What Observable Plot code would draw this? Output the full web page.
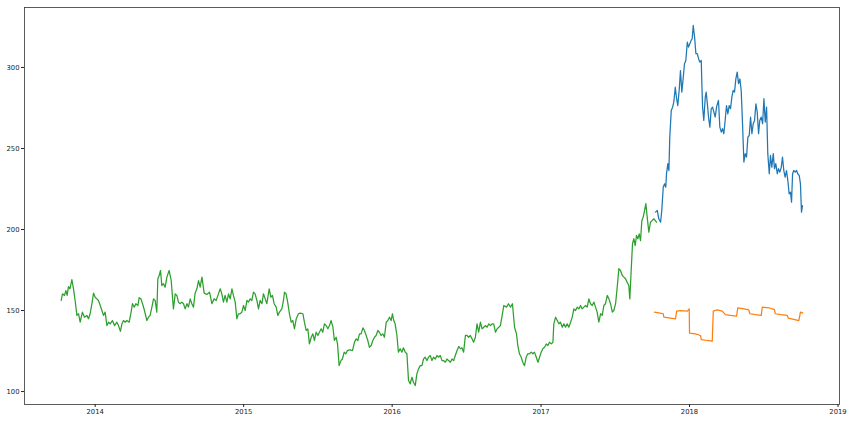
<!DOCTYPE html>
<html>
<head>
<meta charset="utf-8">
<script src="https://cdn.jsdelivr.net/npm/d3@7"></script>
<script src="https://cdn.jsdelivr.net/npm/@observablehq/plot@0.6"></script>
<style>
  html, body { margin: 0; padding: 0; background: #fff; }
  #chart svg { display: block; }
</style>
</head>
<body>
<div id="chart"></div>
<script>
// [decimal year, value]
const greenSeries = [
[2013.771,156.2],[2013.780,160.3],[2013.793,159.3],[2013.803,162.3],[2013.811,159.3],[2013.820,164.8],[2013.830,163.4],[2013.843,169.0],[2013.854,163.4],[2013.865,156.2],
[2013.877,147.0],[2013.888,148.0],[2013.899,142.8],[2013.914,149.0],[2013.928,145.9],[2013.944,147.0],[2013.955,144.9],[2013.966,148.0],[2013.978,154.2],[2013.989,160.7],
[2014.000,158.2],[2014.011,157.2],[2014.022,156.2],[2014.034,153.1],[2014.045,150.0],[2014.056,147.0],[2014.067,149.0],[2014.079,140.7],[2014.090,142.8],[2014.101,141.8],
[2014.116,143.8],[2014.130,140.7],[2014.146,142.8],[2014.157,140.7],[2014.170,137.2],[2014.180,141.8],[2014.191,143.8],[2014.202,142.8],[2014.213,143.8],[2014.229,142.8],
[2014.242,149.0],[2014.251,154.2],[2014.263,152.1],[2014.274,154.2],[2014.288,153.1],[2014.296,157.9],[2014.308,157.2],[2014.319,154.2],[2014.332,150.0],[2014.348,143.8],
[2014.359,145.9],[2014.370,147.0],[2014.382,152.1],[2014.393,157.2],[2014.404,156.2],[2014.415,149.0],[2014.422,169.6],[2014.431,171.6],[2014.440,174.7],[2014.449,165.4],
[2014.460,166.5],[2014.471,164.4],[2014.483,170.6],[2014.498,174.7],[2014.512,168.5],[2014.527,151.0],[2014.539,160.3],[2014.550,159.3],[2014.561,155.2],[2014.572,154.2],
[2014.584,155.2],[2014.595,154.2],[2014.606,151.0],[2014.618,154.2],[2014.628,152.1],[2014.640,157.2],[2014.651,154.2],[2014.662,152.1],[2014.673,160.7],[2014.685,163.4],
[2014.696,168.5],[2014.707,164.4],[2014.719,170.6],[2014.734,160.7],[2014.752,159.9],[2014.770,161.3],[2014.786,154.2],[2014.801,157.2],[2014.815,156.2],[2014.830,160.3],
[2014.842,163.4],[2014.853,160.3],[2014.864,155.2],[2014.875,159.3],[2014.887,155.2],[2014.898,160.3],[2014.909,157.2],[2014.921,163.4],[2014.931,159.3],[2014.943,155.2],
[2014.954,144.9],[2014.965,148.0],[2014.976,148.0],[2014.988,149.0],[2014.999,153.1],[2015.010,150.0],[2015.022,156.2],[2015.032,155.2],[2015.044,157.2],[2015.055,156.2],
[2015.066,161.3],[2015.077,160.3],[2015.089,156.2],[2015.100,151.0],[2015.111,156.2],[2015.123,154.2],[2015.133,160.3],[2015.145,157.2],[2015.156,154.2],[2015.172,163.4],
[2015.183,158.2],[2015.194,159.3],[2015.205,154.2],[2015.219,152.1],[2015.230,147.0],[2015.241,149.0],[2015.257,151.0],[2015.268,156.2],[2015.275,161.3],[2015.286,160.3],
[2015.298,154.2],[2015.308,148.0],[2015.320,142.8],[2015.331,143.8],[2015.342,138.7],[2015.354,144.9],[2015.369,148.0],[2015.380,148.4],[2015.399,148.0],[2015.409,142.8],
[2015.421,137.7],[2015.432,138.7],[2015.443,129.4],[2015.455,133.5],[2015.466,135.6],[2015.477,131.5],[2015.488,136.6],[2015.500,134.6],[2015.510,136.6],[2015.522,138.7],
[2015.533,136.6],[2015.544,141.8],[2015.556,140.7],[2015.567,138.7],[2015.578,140.7],[2015.589,143.8],[2015.601,139.7],[2015.611,131.5],[2015.623,133.5],[2015.632,129.4],
[2015.643,116.0],[2015.655,119.1],[2015.665,120.1],[2015.677,124.3],[2015.688,123.3],[2015.699,125.3],[2015.712,125.7],[2015.717,125.7],[2015.733,125.3],[2015.746,130.4],
[2015.758,132.5],[2015.769,131.5],[2015.780,135.6],[2015.791,135.6],[2015.803,139.3],[2015.813,137.7],[2015.825,134.6],[2015.836,131.5],[2015.847,127.3],[2015.859,128.4],
[2015.870,131.5],[2015.881,133.5],[2015.892,134.6],[2015.904,137.7],[2015.914,136.6],[2015.926,134.6],[2015.937,135.6],[2015.948,133.5],[2015.960,142.8],[2015.971,143.8],
[2015.982,145.9],[2015.993,143.8],[2016.002,148.0],[2016.011,143.8],[2016.020,141.8],[2016.032,134.6],[2016.042,124.3],[2016.054,126.4],[2016.065,124.3],[2016.076,127.0],
[2016.088,124.3],[2016.099,123.3],[2016.110,106.8],[2016.121,104.8],[2016.133,108.8],[2016.143,105.7],[2016.155,103.7],[2016.166,110.9],[2016.177,114.0],[2016.189,116.0],
[2016.200,116.0],[2016.211,120.1],[2016.222,121.2],[2016.234,119.1],[2016.244,121.2],[2016.256,122.2],[2016.267,119.1],[2016.278,121.2],[2016.290,120.1],[2016.301,122.2],
[2016.312,121.2],[2016.323,122.2],[2016.335,119.1],[2016.345,119.1],[2016.357,118.1],[2016.368,120.1],[2016.379,119.1],[2016.391,118.1],[2016.402,120.1],[2016.413,119.1],
[2016.424,122.2],[2016.436,125.3],[2016.447,127.8],[2016.458,126.4],[2016.469,127.0],[2016.480,124.3],[2016.492,134.6],[2016.503,134.6],[2016.514,133.5],[2016.525,134.6],
[2016.537,132.5],[2016.547,130.4],[2016.559,133.5],[2016.570,141.8],[2016.581,136.6],[2016.593,142.8],[2016.604,138.7],[2016.615,139.7],[2016.626,140.7],[2016.638,139.7],
[2016.649,141.8],[2016.660,140.7],[2016.671,141.8],[2016.682,141.8],[2016.694,136.6],[2016.705,138.7],[2016.716,139.7],[2016.727,140.7],[2016.739,147.0],[2016.750,153.1],
[2016.768,152.1],[2016.781,154.2],[2016.795,152.1],[2016.808,154.2],[2016.822,139.7],[2016.835,135.6],[2016.844,128.4],[2016.855,123.3],[2016.867,121.2],[2016.877,118.1],
[2016.889,116.0],[2016.900,121.2],[2016.911,123.3],[2016.923,123.3],[2016.934,124.3],[2016.945,123.3],[2016.956,124.3],[2016.968,121.2],[2016.979,118.1],[2016.990,121.2],
[2017.001,124.3],[2017.012,126.4],[2017.024,127.3],[2017.035,129.4],[2017.046,128.4],[2017.057,130.4],[2017.069,129.4],[2017.080,130.4],[2017.086,141.8],[2017.098,145.9],
[2017.109,143.8],[2017.120,141.8],[2017.131,142.8],[2017.143,139.7],[2017.154,141.8],[2017.165,139.7],[2017.176,141.8],[2017.187,139.7],[2017.199,142.8],[2017.210,145.9],
[2017.221,151.0],[2017.232,150.0],[2017.244,152.1],[2017.255,151.0],[2017.266,153.1],[2017.277,151.0],[2017.288,152.1],[2017.300,153.1],[2017.311,152.1],[2017.322,157.2],
[2017.333,154.2],[2017.345,153.1],[2017.356,155.2],[2017.367,152.1],[2017.378,149.0],[2017.389,142.8],[2017.401,148.0],[2017.412,147.0],[2017.423,153.1],[2017.434,154.2],
[2017.446,159.3],[2017.457,157.2],[2017.468,154.2],[2017.480,149.0],[2017.490,150.0],[2017.502,154.2],[2017.513,164.4],[2017.524,175.8],[2017.535,174.7],[2017.547,171.6],
[2017.558,170.6],[2017.569,169.6],[2017.580,167.5],[2017.591,165.4],[2017.598,157.2],[2017.607,174.7],[2017.616,191.2],[2017.625,194.3],[2017.634,190.1],[2017.643,196.3],
[2017.652,194.3],[2017.661,197.3],[2017.670,193.2],[2017.679,205.6],[2017.688,207.6],[2017.697,211.7],[2017.706,215.9],[2017.715,207.6],[2017.726,198.3],[2017.737,204.5],
[2017.749,205.6],[2017.760,206.6],[2017.778,204.5]
];

const blueSeries = [
[2017.771,210.7],[2017.783,211.7],[2017.793,206.6],[2017.805,204.5],[2017.813,211.7],[2017.823,226.1],[2017.832,228.2],[2017.840,226.1],[2017.845,234.4],[2017.854,240.6],
[2017.861,236.4],[2017.867,257.0],[2017.877,273.5],[2017.886,275.5],[2017.894,278.6],[2017.904,287.8],[2017.913,280.7],[2017.921,276.5],[2017.931,286.8],[2017.939,298.1],
[2017.948,284.8],[2017.958,294.0],[2017.966,302.3],[2017.975,304.3],[2017.985,315.6],[2017.993,312.6],[2018.002,314.6],[2018.011,316.7],[2018.018,317.7],[2018.025,325.9],
[2018.034,318.7],[2018.043,308.5],[2018.052,308.5],[2018.061,305.4],[2018.069,303.3],[2018.079,304.3],[2018.083,290.0],[2018.088,275.5],[2018.096,267.3],[2018.106,281.7],
[2018.112,284.8],[2018.119,278.6],[2018.128,269.4],[2018.137,263.2],[2018.146,274.5],[2018.155,275.5],[2018.164,272.4],[2018.173,269.4],[2018.182,275.5],[2018.191,278.6],
[2018.195,279.6],[2018.204,263.2],[2018.214,260.1],[2018.222,262.2],[2018.231,259.1],[2018.240,267.3],[2018.249,276.5],[2018.258,271.4],[2018.267,276.5],[2018.276,274.5],
[2018.285,281.7],[2018.294,285.8],[2018.303,284.8],[2018.312,293.0],[2018.321,297.1],[2018.330,290.0],[2018.339,293.0],[2018.348,285.8],[2018.357,265.3],[2018.366,241.6],
[2018.375,246.8],[2018.384,244.7],[2018.393,257.0],[2018.402,258.0],[2018.411,269.4],[2018.420,259.1],[2018.429,265.3],[2018.438,267.3],[2018.447,277.6],[2018.456,272.4],
[2018.465,259.1],[2018.473,267.3],[2018.483,269.4],[2018.492,265.3],[2018.501,280.7],[2018.510,266.3],[2018.519,275.5],[2018.527,246.8],[2018.537,234.4],[2018.545,245.7],
[2018.554,238.5],[2018.564,246.8],[2018.572,237.5],[2018.581,240.6],[2018.591,234.4],[2018.599,237.5],[2018.608,235.4],[2018.618,238.5],[2018.626,244.7],[2018.635,236.4],
[2018.644,232.3],[2018.653,236.4],[2018.662,230.2],[2018.671,222.0],[2018.680,223.0],[2018.687,216.9],[2018.694,234.4],[2018.702,236.4],[2018.712,235.4],[2018.721,236.4],
[2018.729,234.4],[2018.739,233.3],[2018.747,228.2],[2018.754,210.7],[2018.761,214.8]
];

const orangeSeries = [
[2017.764,149.0],[2017.793,148.6],[2017.823,148.0],[2017.827,145.9],[2017.861,145.5],[2017.906,144.9],[2017.913,149.6],[2017.939,150.0],[2017.985,149.6],[2017.998,151.0],
[2018.000,136.0],[2018.040,135.6],[2018.074,134.6],[2018.079,132.1],[2018.119,131.5],[2018.153,131.1],[2018.160,149.6],[2018.187,150.4],[2018.220,149.6],[2018.242,147.5],
[2018.276,147.0],[2018.317,146.6],[2018.325,151.7],[2018.366,151.0],[2018.399,150.4],[2018.406,148.0],[2018.444,147.4],[2018.483,147.0],[2018.490,152.1],[2018.534,151.7],
[2018.572,150.6],[2018.577,148.0],[2018.613,147.5],[2018.658,147.0],[2018.665,145.3],[2018.702,144.5],[2018.736,143.8],[2018.747,149.0],[2018.763,148.4]
];

const yTicks = [100, 150, 200, 250, 300];
const xTickYears = [2014, 2015, 2016, 2017, 2018, 2019];

function toDate(y) {
  const yr = Math.floor(y);
  const a = Date.UTC(yr, 0, 1), b = Date.UTC(yr + 1, 0, 1);
  return new Date(a + (y - yr) * (b - a));
}
const rows = (s) => s.map(([t, v]) => ({date: toDate(t), value: v}));

const chart = Plot.plot({
  width: 850,
  height: 422,
  marginLeft: 24,
  marginRight: 11,
  marginTop: 7,
  marginBottom: 18,
  style: {background: "#fff", fontFamily: "DejaVu Sans, sans-serif", fontSize: "6.8px", color: "#222"},
  x: {type: "utc", domain: [toDate(2013.524), toDate(2019.010)]},
  y: {domain: [92.0, 337.0]},
  marks: [
    Plot.lineY(rows(blueSeries), {x: "date", y: "value", stroke: "#1f77b4", strokeWidth: 1.25}),
    Plot.lineY(rows(orangeSeries), {x: "date", y: "value", stroke: "#ff7f0e", strokeWidth: 1.25}),
    Plot.lineY(rows(greenSeries), {x: "date", y: "value", stroke: "#2ca02c", strokeWidth: 1.25}),
    Plot.frame({stroke: "#333", strokeWidth: 0.8}),
    Plot.axisX({ticks: xTickYears.map(y => toDate(y)), tickFormat: d3.utcFormat("%Y"), tickSize: 3, tickPadding: 2, label: null, fontSize: 6.8}),
    Plot.axisY({ticks: yTicks, tickSize: 3, tickPadding: 2, label: null, fontSize: 6.8})
  ]
});
document.getElementById("chart").appendChild(chart);
</script>
</body>
</html>
